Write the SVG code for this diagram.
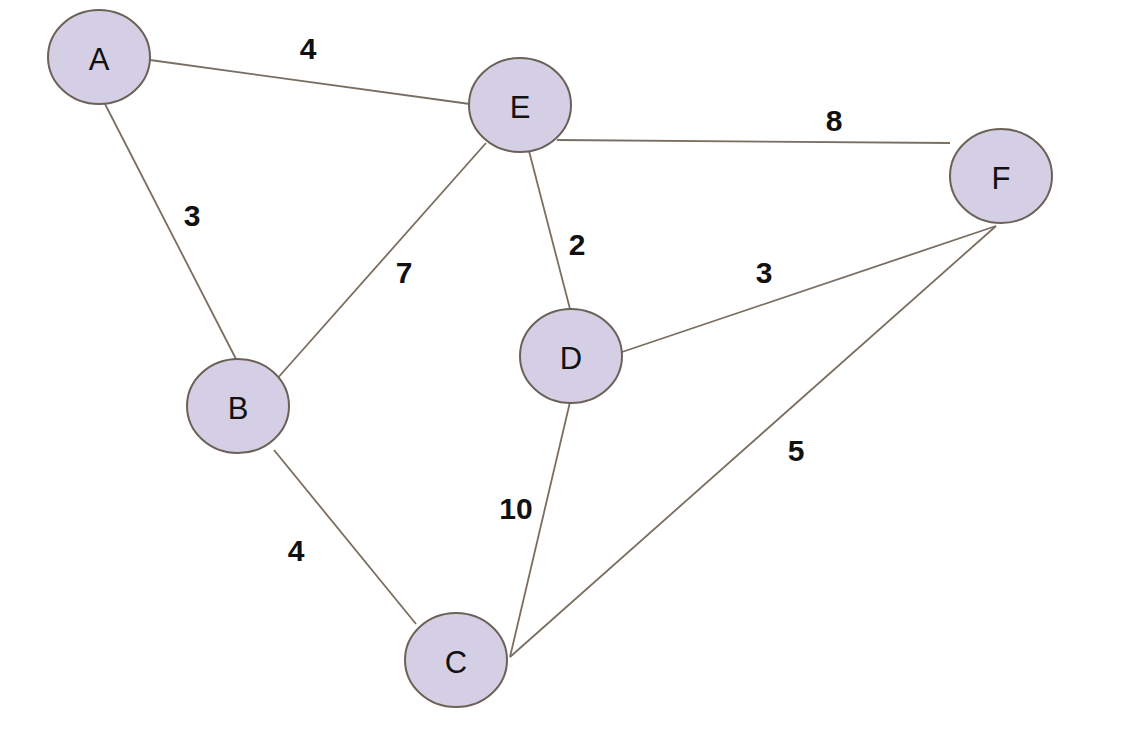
<svg xmlns="http://www.w3.org/2000/svg" width="1132" height="742" viewBox="0 0 1132 742">
<style>
.n{fill:#d5cfe5;stroke:#6b6156;stroke-width:2}
.t{font-family:"Liberation Sans",sans-serif;font-size:31px;fill:#111;text-anchor:middle;dominant-baseline:central}
.e{stroke:#7a6e60;stroke-width:1.8;fill:none}
.w{font-family:"Liberation Sans",sans-serif;font-weight:bold;font-size:30px;fill:#111;text-anchor:middle;dominant-baseline:central}
</style>
<rect width="1132" height="742" fill="#fff"/>
<g id="connectors">
<line class="e" x1="150" y1="60" x2="470" y2="104"/>
<line class="e" x1="105" y1="104" x2="236" y2="359"/>
<line class="e" x1="557" y1="140" x2="950" y2="143"/>
<line class="e" x1="486" y1="143" x2="276" y2="380"/>
<line class="e" x1="529" y1="151" x2="570" y2="309"/>
<line class="e" x1="622" y1="352" x2="996" y2="226"/>
<line class="e" x1="996" y1="226" x2="510" y2="657"/>
<line class="e" x1="570" y1="402" x2="510" y2="657"/>
<line class="e" x1="274" y1="450" x2="416" y2="624"/>
<text class="w" x="308" y="48">4</text>
<text class="w" x="834" y="120">8</text>
<text class="w" x="192" y="215">3</text>
<text class="w" x="404" y="272">7</text>
<text class="w" x="577" y="244">2</text>
<text class="w" x="764" y="272">3</text>
<text class="w" x="796" y="450">5</text>
<text class="w" x="516" y="508">10</text>
<text class="w" x="296" y="550">4</text>
</g>
<g id="A"><ellipse class="n" cx="99" cy="57" rx="51" ry="47"/><text class="t" x="99" y="59">A</text></g>
<g id="E"><ellipse class="n" cx="520" cy="105" rx="51" ry="47"/><text class="t" x="520" y="107">E</text></g>
<g id="F"><ellipse class="n" cx="1001" cy="176" rx="51" ry="47"/><text class="t" x="1001" y="178">F</text></g>
<g id="D"><ellipse class="n" cx="571" cy="356" rx="51" ry="47"/><text class="t" x="571" y="358">D</text></g>
<g id="B"><ellipse class="n" cx="238" cy="406" rx="51" ry="47"/><text class="t" x="238" y="408">B</text></g>
<g id="C"><ellipse class="n" cx="456" cy="660" rx="51" ry="47"/><text class="t" x="456" y="662">C</text></g>
</svg>
